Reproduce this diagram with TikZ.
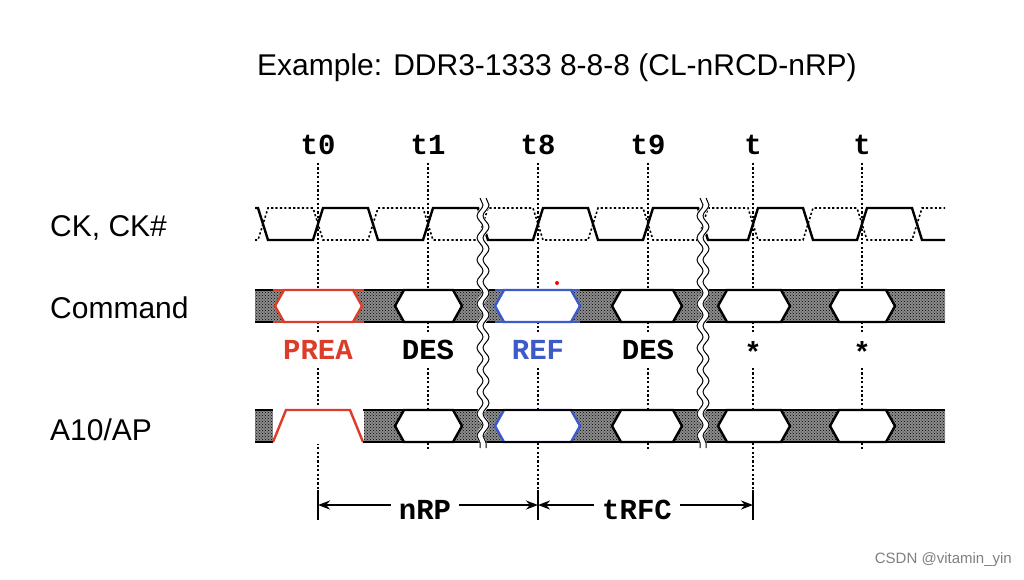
\documentclass[tikz,border=0pt]{standalone}
\usepackage{fontspec}
\setmainfont{Liberation Sans}
\newfontfamily\monob{Liberation Mono}
\usetikzlibrary{patterns,decorations.pathmorphing,arrows.meta}
\definecolor{sigred}{RGB}{220,60,40}
\definecolor{sigblue}{RGB}{60,90,200}
\tikzset{
  lbl/.style={font=\fontsize{30}{32}\selectfont, anchor=west, inner sep=0},
  tl/.style={font=\monob\bfseries\fontsize{29}{30}\selectfont, inner sep=0},
  gl/.style={dash pattern=on 2.2pt off 2.2pt, line width=2.2pt},
  wire/.style={line width=2.4pt},
  brk/.style={decorate, decoration={snake, amplitude=3pt, segment length=22pt}},
}
\begin{document}
\begin{tikzpicture}[x=1pt,y=-1pt]
\path[use as bounding box, fill=white] (0,0) rectangle (1024,579);
% title
\node[font=\fontsize{30}{32}\selectfont, inner sep=0] (title) at (557,68) {Example: DDR3-1333 8-8-8 (CL-nRCD-nRP)};
% time labels and grid
\foreach \n/\x/\t/\e in {a/318/t0/520, b/428/t1/450, c/538/t8/520, d/648/t9/450, e/753/t/520, f/862/t/450}{
  \node[tl] (T\n) at (\x,145) {\t};
  \coordinate (G\n) at (\x,\e);
  \draw[gl] (T\n.south) ++(0,8) -- (\x,332);
  \draw[gl] (\x,368) -- (G\n);
}
% signal names
\node[lbl] (ck) at (50,228) {CK, CK\#};
\node[lbl] (cmd) at (50,308) {Command};
\node[lbl] (a10) at (50,430) {A10/AP};
% clock
\def\T{208}\def\B{240}
\draw[wire] (255,\T) -- (258,\T) -- (268,\B)
  \foreach \r in {318,428,538,648,753,862}{ -- ({\r-5},\B) -- ({\r+5},\T) -- ({\r+50},\T) -- ({\r+60},\B)} -- (945,\B);
\draw[gl,line width=1.6pt] (255,\B) -- (258,\B) -- (268,\T)
  \foreach \r in {318,428,538,648,753,862}{ -- ({\r-5},\T) -- ({\r+5},\B) -- ({\r+50},\B) -- ({\r+60},\T)} -- (945,\T);
% buses
\foreach \top/\bot in {290/322, 410/442}{
  \pgfmathsetmacro\mid{(\top+\bot)/2}
  \fill[black!45] (255,\top) rectangle (945,\bot);
  \fill[pattern=crosshatch dots, pattern color=black] (255,\top) rectangle (945,\bot);
  \foreach \a/\b in {395/462, 612/682, 718/790, 830/895}{
    \draw[wire, fill=white] (\a,\mid) -- (\a+9,\top) -- (\b-9,\top) -- (\b,\mid) -- (\b-9,\bot) -- (\a+9,\bot) -- cycle;
  }
  \draw[wire, sigblue, fill=white] (495,\mid) -- (504,\top) -- (571,\top) -- (580,\mid) -- (571,\bot) -- (504,\bot) -- cycle;
  \draw[wire] (255,\top) -- (945,\top);
  \draw[wire] (255,\bot) -- (945,\bot);
  \draw[wire, sigblue] (495,\top) -- (580,\top) (495,\bot) -- (580,\bot);
}
% PREA command
\draw[wire, sigred, fill=white] (275,306) -- (284,290) -- (353,290) -- (362,306) -- (353,322) -- (284,322) -- cycle;
\draw[wire, sigred] (273,290) -- (364,290) (273,322) -- (364,322);
% A10 trapezoid
\fill[white] (273,408) rectangle (364,444);
\draw[wire, sigred] (273,442) -- (286,410) -- (350,410) -- (363,442);
\draw[wire] (255,442) -- (273,442) (363,442) -- (945,442);
\draw[wire] (255,410) -- (273,410) (363,410) -- (945,410);
% breaks
\foreach \x in {483,703}{
  \draw[brk, white, line width=7pt] (\x,198) -- (\x,448);
  \draw[brk, line width=1pt] (\x-3,198) -- (\x-3,448);
  \draw[brk, line width=1pt] (\x+3,198) -- (\x+3,448);
}
% command labels
\node[tl, sigred] (c1) at (318,350) {PREA};
\node[tl] (c2) at (428,350) {DES};
\node[tl, sigblue] (c3) at (538,350) {REF};
\node[tl] (c4) at (648,350) {DES};
\node[tl] (c5) at (753,352) {*};
\node[tl] (c6) at (862,352) {*};
\fill[red] (557,283) circle (2);
% dimensions
\draw[wire] (318,490) -- (318,520) (538,490) -- (538,520) (753,490) -- (753,520);
\node[tl] (nrp) at (425,510) {nRP};
\node[tl] (trfc) at (637,510) {tRFC};
\coordinate (d0) at (318,505); \coordinate (d1) at (538,505); \coordinate (d2) at (753,505);
\draw[wire, -{Stealth[length=12pt,width=9pt]}] (nrp.west) ++(-8,-5) -- (d0);
\draw[wire, -{Stealth[length=12pt,width=9pt]}] (nrp.east) ++(8,-5) -- (d1);
\draw[wire, -{Stealth[length=12pt,width=9pt]}] (trfc.west) ++(-8,-5) -- (d1);
\draw[wire, -{Stealth[length=12pt,width=9pt]}] (trfc.east) ++(8,-5) -- (d2);
% watermark
\node[font=\fontsize{15}{16}\selectfont, text=gray, anchor=east, inner sep=0] (wm) at (1012,560) {CSDN @vitamin\_yin};
\end{tikzpicture}
\end{document}
